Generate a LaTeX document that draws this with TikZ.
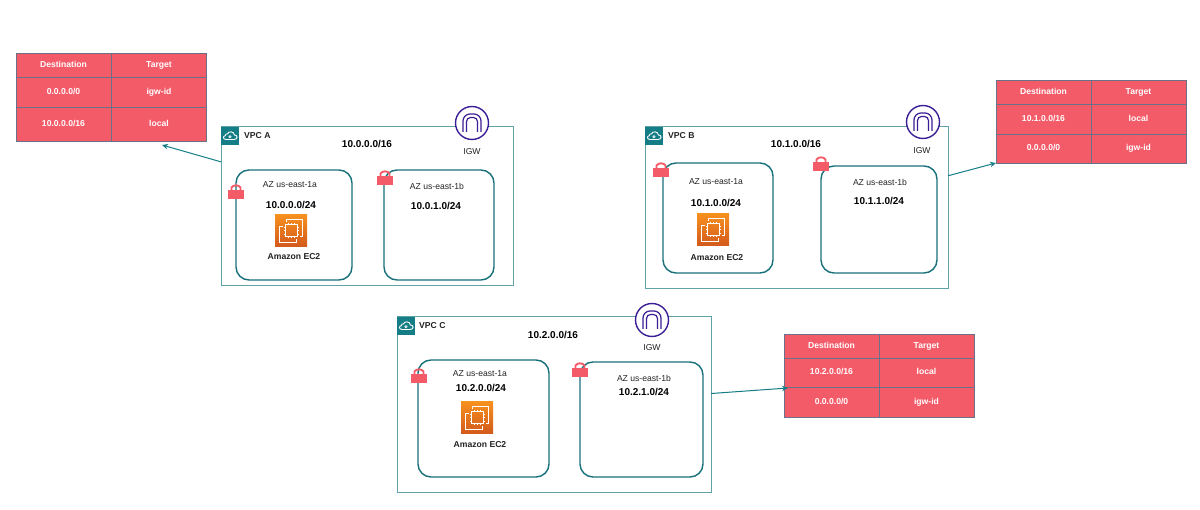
\documentclass[tikz,border=0pt]{standalone}
\usepackage{fontspec}
\usetikzlibrary{arrows.meta}
\setmainfont{Liberation Sans}
\definecolor{rtred}{HTML}{F45B69}
\definecolor{rtline}{HTML}{6A7186}
\definecolor{vpcline}{HTML}{5FA3A8}
\definecolor{azline}{HTML}{17707A}
\definecolor{vpcteal}{HTML}{147D85}
\definecolor{igwblue}{HTML}{3A1E96}
\definecolor{ec2dark}{HTML}{D2591C}
\definecolor{ec2light}{HTML}{F7901E}
\definecolor{txtdark}{HTML}{222222}

\tikzset{
    vpcbox/.style={rectangle, draw=vpcline, line width=1pt, inner sep=0pt, outer sep=0pt},
    azbox/.style={rectangle, rounded corners=13pt, draw=azline, line width=1.4pt, inner sep=0pt, outer sep=0pt},
    rtcell/.style={rectangle, draw=rtline, line width=0.9pt, fill=rtred, text=white, inner sep=0pt, outer sep=0pt,
        minimum width=95pt, text height=6.5pt, text depth=1.8pt, font=\fontsize{8.6}{10}\selectfont\bfseries},
    rthead/.style={rtcell, minimum height=24pt},
    azlabel/.style={text=txtdark, inner sep=0pt, font=\fontsize{8.6}{10}\selectfont},
    cidrlabel/.style={text=black, inner sep=0pt, font=\fontsize{10}{12}\selectfont\bfseries},
    boldlabel/.style={text=txtdark, inner sep=0pt, font=\fontsize{8.6}{10}\selectfont\bfseries},
    cloudbox/.style={rectangle, fill=vpcteal, minimum size=18pt, inner sep=0pt, outer sep=0pt},
    ec2box/.style={rectangle, minimum size=32pt, inner sep=0pt, shading angle=45, bottom color=ec2dark, top color=ec2light},
    igwring/.style={circle, draw=igwblue, line width=1.4pt, fill=white, minimum size=33pt, inner sep=0pt},
    link/.style={-{Stealth[length=6pt, width=5.5pt]}, draw=vpcteal, line width=1pt},
    lockicon/.pic={
        \draw[rtred, line width=1.9pt] (-4.5,-2) -- (-4.5,-4.5) to[bend left=55] (4.5,-4.5) -- (4.5,-2);
        \fill[rtred] (-8,-2) rectangle (8,7);
    },
    cloudicon/.pic={
        \draw[white, line width=0.9pt] (-4,3.5) -- (4,3.5) .. controls (8,3.5) and (8,-1) .. (4.5,-1)
            .. controls (4,-5) and (-2,-5) .. (-2.5,-2) .. controls (-3.5,-3) and (-5,-1.5) .. (-4.5,-0.5)
            .. controls (-7.5,0) and (-7,3.5) .. (-4,3.5);
        \draw[white, line width=0.7pt] (0,0.8) circle (1.2pt);
    },
    igwicon/.pic={
        \draw[igwblue, line width=1.2pt, rounded corners=7pt] (-9,9) -- (-9,-9) -- (9,-9) -- (9,9);
        \draw[igwblue, line width=1.2pt, rounded corners=4pt] (-5.5,9) -- (-5.5,-5.5) -- (5.5,-5.5) -- (5.5,9);
    },
    ec2icon/.pic={
        \draw[white, line width=0.9pt] (-5,-8.5) -- (-5,-11.5) -- (11.5,-11.5) -- (11.5,5) -- (8.5,5);
        \draw[white, line width=0.9pt] (-8.5,-5) -- (-11.5,-5) -- (-11.5,11.5) -- (5,11.5) -- (5,8.5);
        \draw[white, line width=1pt] (-5.5,-6) rectangle (6,5.5);
        \draw[white, line width=0.8pt] (-3,-6) -- (-3,-8) (0.25,-6) -- (0.25,-8) (3.5,-6) -- (3.5,-8)
            (-3,5.5) -- (-3,7.5) (0.25,5.5) -- (0.25,7.5) (3.5,5.5) -- (3.5,7.5)
            (-5.5,-3.5) -- (-7.5,-3.5) (-5.5,-0.25) -- (-7.5,-0.25) (-5.5,3) -- (-7.5,3)
            (6,-3.5) -- (8,-3.5) (6,-0.25) -- (8,-0.25) (6,3) -- (8,3);
    },
}

\begin{document}
\begin{tikzpicture}[x=1pt, y=-1pt]
    \useasboundingbox (0,0) rectangle (1200,510);

    \node[vpcbox, minimum width=292pt, minimum height=159pt] (vpca) at (367, 206.5) {};
    \node[vpcbox, minimum width=303pt, minimum height=162pt] (vpcb) at (796.5, 208) {};
    \node[vpcbox, minimum width=314pt, minimum height=175pt] (vpcc) at (554, 404.5) {};

    \node[azbox, minimum width=116pt, minimum height=110pt] (aza1) at (294, 225) {};
    \node[azbox, minimum width=110pt, minimum height=110pt] (aza2) at (439, 225) {};
    \node[azbox, minimum width=110pt, minimum height=110pt] (azb1) at (718, 218) {};
    \node[azbox, minimum width=116pt, minimum height=107pt] (azb2) at (879, 219.5) {};
    \node[azbox, minimum width=131pt, minimum height=117pt] (azc1) at (483.5, 418.5) {};
    \node[azbox, minimum width=123pt, minimum height=115pt] (azc2) at (641.5, 419.5) {};

    \node[cloudbox] (clouda) at (230, 136) {};
    \node[cloudbox] (cloudb) at (654, 136) {};
    \node[cloudbox] (cloudc) at (406, 326) {};
    \pic at (clouda) {cloudicon};
    \pic at (cloudb) {cloudicon};
    \pic at (cloudc) {cloudicon};

    \node[boldlabel, anchor=west] (vpcnamea) at (244, 136) {VPC A};
    \node[boldlabel, anchor=west] (vpcnameb) at (668, 136) {VPC B};
    \node[boldlabel, anchor=west] (vpcnamec) at (419, 326) {VPC C};

    \node[cidrlabel] (cidra) at (367, 144) {10.0.0.0/16};
    \node[cidrlabel] (cidrb) at (796, 144) {10.1.0.0/16};
    \node[cidrlabel] (cidrc) at (553, 335) {10.2.0.0/16};

    \node[igwring] (igwa) at (472, 123) {};
    \node[igwring] (igwb) at (923, 122) {};
    \node[igwring] (igwc) at (652, 320) {};
    \pic at (igwa) {igwicon};
    \pic at (igwb) {igwicon};
    \pic at (igwc) {igwicon};
    \node[azlabel] (igwnamea) at (472, 152) {IGW};
    \node[azlabel] (igwnameb) at (922, 151) {IGW};
    \node[azlabel] (igwnamec) at (652, 348) {IGW};

    \pic at (236, 192) {lockicon};
    \pic at (385, 178) {lockicon};
    \pic at (661, 170) {lockicon};
    \pic at (821, 164) {lockicon};
    \pic at (419, 376) {lockicon};
    \pic at (580, 370) {lockicon};

    \node[azlabel] (aznamea1) at (290, 185) {AZ us-east-1a};
    \node[azlabel] (aznamea2) at (437, 186) {AZ us-east-1b};
    \node[azlabel] (aznameb1) at (716, 182) {AZ us-east-1a};
    \node[azlabel] (aznameb2) at (880, 182) {AZ us-east-1b};
    \node[azlabel] (aznamec1) at (480, 374) {AZ us-east-1a};
    \node[azlabel] (aznamec2) at (644, 378) {AZ us-east-1b};

    \node[cidrlabel] (suba1) at (291, 205) {10.0.0.0/24};
    \node[cidrlabel] (suba2) at (436, 206) {10.0.1.0/24};
    \node[cidrlabel] (subb1) at (716, 203) {10.1.0.0/24};
    \node[cidrlabel] (subb2) at (879, 201) {10.1.1.0/24};
    \node[cidrlabel] (subc1) at (481, 388) {10.2.0.0/24};
    \node[cidrlabel] (subc2) at (644, 392) {10.2.1.0/24};

    \node[ec2box] (ec2a) at (291, 231) {};
    \node[ec2box] (ec2b) at (713, 230) {};
    \node[ec2box] (ec2c) at (477, 418) {};
    \pic at (ec2a) {ec2icon};
    \pic at (ec2b) {ec2icon};
    \pic at (ec2c) {ec2icon};
    \node[boldlabel] (ec2namea) at (294, 257) {Amazon EC2};
    \node[boldlabel] (ec2nameb) at (717, 258) {Amazon EC2};
    \node[boldlabel] (ec2namec) at (480, 445) {Amazon EC2};

    \node[rthead] (rta00) at (63.5, 65) {Destination};
    \node[rthead] (rta01) at (159, 65) {Target};
    \node[rtcell, minimum height=30pt] (rta10) at (63.5, 92) {0.0.0.0/0};
    \node[rtcell, minimum height=30pt] (rta11) at (159, 92) {igw-id};
    \node[rtcell, minimum height=34pt] (rta20) at (63.5, 124) {10.0.0.0/16};
    \node[rtcell, minimum height=34pt] (rta21) at (159, 124) {local};

    \node[rthead] (rtb00) at (1043.5, 92) {Destination};
    \node[rthead] (rtb01) at (1138.5, 92) {Target};
    \node[rtcell, minimum height=30pt] (rtb10) at (1043.5, 119) {10.1.0.0/16};
    \node[rtcell, minimum height=30pt] (rtb11) at (1138.5, 119) {local};
    \node[rtcell, minimum height=29pt] (rtb20) at (1043.5, 148.5) {0.0.0.0/0};
    \node[rtcell, minimum height=29pt] (rtb21) at (1138.5, 148.5) {igw-id};

    \node[rthead] (rtc00) at (831.5, 346) {Destination};
    \node[rthead] (rtc01) at (926.5, 346) {Target};
    \node[rtcell, minimum height=29pt] (rtc10) at (831.5, 372.5) {10.2.0.0/16};
    \node[rtcell, minimum height=29pt] (rtc11) at (926.5, 372.5) {local};
    \node[rtcell, minimum height=30pt] (rtc20) at (831.5, 402) {0.0.0.0/0};
    \node[rtcell, minimum height=30pt] (rtc21) at (926.5, 402) {igw-id};

    \coordinate (tipa) at (162, 145);
    \coordinate (tipc) at (788, 388);

    \draw[link] (vpca.163.4) to (tipa);
    \draw[link] (vpcb.12.6) to (rtb20.south west);
    \draw[link] (vpcc.4) to (tipc);
\end{tikzpicture}
\end{document}
